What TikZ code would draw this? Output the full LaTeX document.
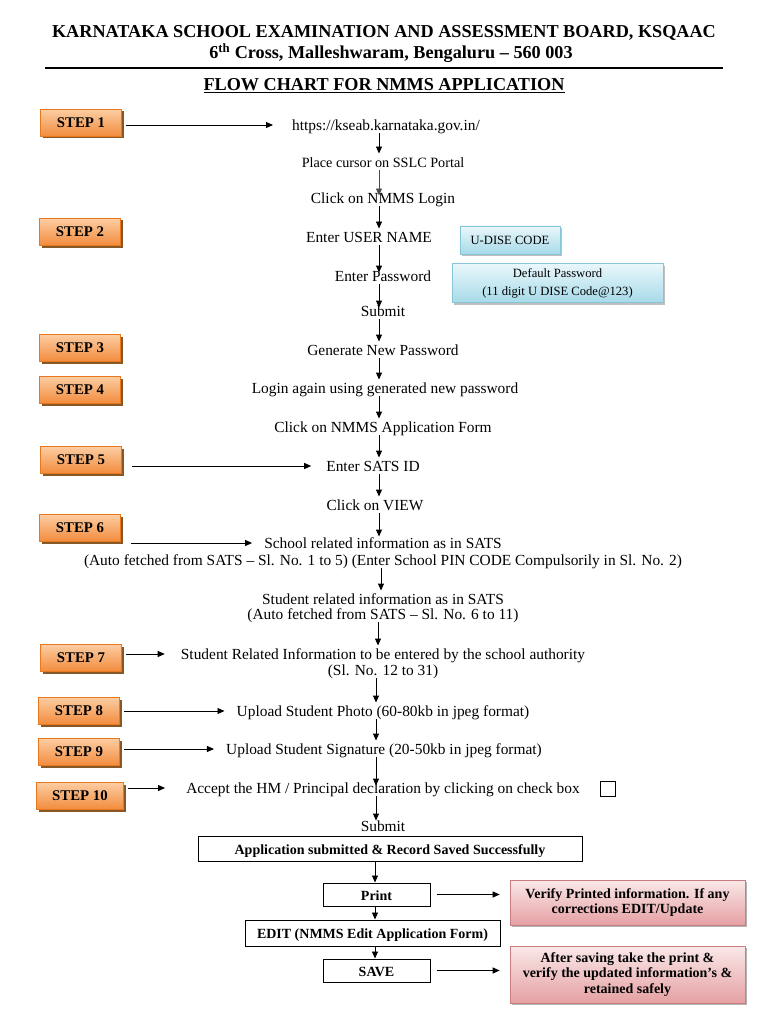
\documentclass[tikz,border=0pt]{standalone}
\usepackage{fontspec}
\setmainfont{Liberation Serif}
\usetikzlibrary{arrows.meta,shadows}
\definecolor{orTop}{HTML}{FCCDA2}
\definecolor{orBot}{HTML}{F28B3C}
\definecolor{orLine}{HTML}{E8781F}
\definecolor{blTop}{HTML}{EAF7FB}
\definecolor{blBot}{HTML}{A6DAE8}
\definecolor{blLine}{HTML}{86C6D8}
\definecolor{pkTop}{HTML}{FAE8E8}
\definecolor{pkBot}{HTML}{E5A0A3}
\definecolor{pkLine}{HTML}{C97E82}
\begin{document}
\begin{tikzpicture}[x=1pt,y=-1pt,
  txt/.style={inner sep=1pt, text height=13pt, text depth=1.5pt, font=\fontsize{15.4}{17}\selectfont},
  smalltxt/.style={txt, font=\fontsize{14.2}{17}\selectfont},
  stepbox/.style={draw=orLine, line width=0.8pt, top color=orTop, bottom color=orBot,
     minimum width=81pt, minimum height=27pt, inner sep=2pt,
     font=\bfseries\fontsize{14.8}{17}\selectfont,
     drop shadow={shadow xshift=2pt, shadow yshift=-2pt, fill=orange!45!black, opacity=0.85}},
  bluebox/.style={draw=blLine, line width=0.6pt, top color=blTop, bottom color=blBot,
     inner sep=2pt, align=center, font=\fontsize{12.6}{18}\selectfont,
     drop shadow={shadow xshift=2pt, shadow yshift=-2pt, fill=gray, opacity=0.5}},
  pinkbox/.style={draw=pkLine, line width=0.6pt, top color=pkTop, bottom color=pkBot,
     minimum width=235pt, inner sep=2pt, align=center, font=\bfseries\fontsize{14}{15.5}\selectfont,
     drop shadow={shadow xshift=2pt, shadow yshift=-2pt, fill=gray, opacity=0.6}},
  flowbox/.style={draw, line width=1pt, inner sep=2pt, text height=12.25pt, text depth=1.25pt, font=\bfseries\fontsize{14}{16}\selectfont},
  arr/.style={-{Triangle[length=7pt,width=6pt]}, line width=0.9pt},
  hdr/.style={font=\bfseries\fontsize{18.2}{20}\selectfont, inner sep=0pt}
]
\useasboundingbox (0,0) rectangle (768,1024);
% header
\node[hdr] (h1) at (384,33) {KARNATAKA SCHOOL EXAMINATION AND ASSESSMENT BOARD, KSQAAC};
\node[hdr] (h2) at (391,53) {6\textsuperscript{th} Cross, Malleshwaram, Bengaluru – 560 003};
\coordinate (rl) at (45,68);
\coordinate (rr) at (723,68);
\draw[line width=1.6pt] (rl) -- (rr);
\node[hdr] (title) at (384,86) {\underline{FLOW CHART FOR NMMS APPLICATION}};

% step boxes
\node[stepbox] (s1) at (81,123) {STEP 1};
\node[stepbox] (s2) at (80,232) {STEP 2};
\node[stepbox] (s3) at (80,348) {STEP 3};
\node[stepbox] (s4) at (80,390) {STEP 4};
\node[stepbox] (s5) at (81,460) {STEP 5};
\node[stepbox] (s6) at (80,528) {STEP 6};
\node[stepbox] (s7) at (81,658) {STEP 7};
\node[stepbox] (s8) at (79,711) {STEP 8};
\node[stepbox] (s9) at (79,752) {STEP 9};
\node[stepbox,minimum width=87pt] (s10) at (80,796) {STEP 10};

% main column texts
\node[txt] (n1) at (386,125) {https://kseab.karnataka.gov.in/};
\node[smalltxt] (n2) at (383,162) {Place cursor on SSLC Portal};
\node[txt] (n3) at (383,198) {Click on NMMS Login};
\node[txt] (n4) at (369,237) {Enter USER NAME};
\node[txt] (n5) at (383,276) {Enter Password};
\node[txt] (n6) at (383,311) {Submit};
\node[txt] (n7) at (383,350) {Generate New Password};
\node[txt] (n8) at (385,388) {Login again using generated new password};
\node[txt] (n9) at (383,427) {Click on NMMS Application Form};
\node[txt] (n10) at (373,466) {Enter SATS ID};
\node[txt] (n11) at (375,505) {Click on VIEW};
\node[txt] (n12a) at (383,543) {School related information as in SATS};
\node[txt] (n12b) at (383,560) {(Auto fetched from SATS – Sl. No. 1 to 5) (Enter School PIN CODE Compulsorily in Sl. No. 2)};
\node[txt] (n13a) at (383,599) {Student related information as in SATS};
\node[txt] (n13b) at (383,614) {(Auto fetched from SATS – Sl. No. 6 to 11)};
\node[txt] (n14a) at (383,654) {Student Related Information to be entered by the school authority};
\node[txt] (n14b) at (383,670) {(Sl. No. 12 to 31)};
\node[txt] (n15) at (383,711) {Upload Student Photo (60-80kb in jpeg format)};
\node[txt] (n16) at (384,749) {Upload Student Signature (20-50kb in jpeg format)};
\node[txt] (n17) at (383,788) {Accept the HM / Principal declaration by clicking on check box};
\node[draw, line width=0.8pt, minimum size=15pt, inner sep=0pt] (chk) at (608,789) {};
\node[txt] (n18) at (383,826) {Submit};

% boxes
\node[flowbox, minimum width=384pt, minimum height=25pt] (b1) at (390,848.5) {Application submitted \& Record Saved Successfully};
\node[flowbox, minimum width=107pt, minimum height=23pt] (b2) at (376.5,894.5) {Print};
\node[flowbox, minimum width=255pt, minimum height=26pt] (b3) at (372.5,933) {EDIT (NMMS Edit Application Form)};
\node[flowbox, minimum width=107pt, minimum height=23pt] (b4) at (376.5,970.5) {SAVE};

\node[pinkbox, minimum height=45pt] (p1) at (627.5,902.5) {Verify Printed information. If any\\corrections EDIT/Update};
\node[pinkbox, minimum height=57pt] (p2) at (627.5,974.5) {After saving take the print \&\\verify the updated information’s \&\\retained safely};

\node[bluebox, minimum width=100pt, minimum height=28pt] (u1) at (510,240) {U-DISE CODE};
\node[bluebox, minimum width=211pt, minimum height=39pt] (u2) at (557.5,283) {Default Password\\(11 digit U DISE Code@123)};

% column coordinates
\coordinate (cA) at (379,0);
\coordinate (cB) at (376,0);

% vertical arrows
\draw[arr] (n1.south -| cA) -- (n2.north -| cA);
\draw[arr, gray!60!black] (n2.south -| cA) -- ([yshift=-6pt]n3.north -| cA);
\draw[arr] (n3.south -| cA) -- (n4.north -| cA);
\draw[arr] (n4.south -| cA) -- ([yshift=-5pt]n5.north -| cA);
\draw[arr] (n5.south -| cA) -- ([yshift=-5pt]n6.north -| cA);
\draw[arr] (n6.south -| cA) -- (n7.north -| cA);
\draw[arr] (n7.south -| cA) -- (n8.north -| cA);
\draw[arr] (n8.south -| cA) -- (n9.north -| cA);
\draw[arr] (n9.south -| cA) -- (n10.north -| cA);
\draw[arr] (n10.south -| cA) -- (n11.north -| cA);
\draw[arr] (n11.south -| cA) -- ([yshift=-2pt]n12a.north -| cA);
\draw[arr] ([xshift=2pt]n12b.south -| cA) -- ([xshift=2pt]n13a.north -| cA);
\draw[arr] ([xshift=-1pt]n13b.south -| cA) -- ([xshift=-1pt]n14a.north -| cA);
\draw[arr] (n14b.south -| cB) -- (n15.north -| cB);
\draw[arr] (n15.south -| cB) -- (n16.north -| cB);
\draw[arr] (n16.south -| cB) -- ([yshift=-6pt]n17.north -| cB);
\draw[arr] (n17.south -| cB) -- ([yshift=-3pt]n18.north -| cB);
\draw[arr] ([xshift=-1pt]b1.south -| cB) -- ([xshift=-1pt]b2.north -| cB);
\draw[arr] ([xshift=-1pt]b2.south -| cB) -- ([xshift=-1pt]b3.north -| cB);
\draw[arr] ([xshift=-1pt]b3.south -| cB) -- ([xshift=-1pt]b4.north -| cB);

% step arrows
\draw[arr] ([xshift=4pt]s1.east |- n1.west) -- ([xshift=-18pt]n1.west);
\draw[arr] ([xshift=10pt]s5.east |- n10.west) -- ([xshift=-14pt]n10.west);
\draw[arr] ([xshift=10pt]s6.east |- n12a.west) -- ([xshift=-11pt]n12a.west);
\draw[arr] ([xshift=4pt]s7.east |- n14a.west) -- ([xshift=-15pt]n14a.west);
\draw[arr] ([xshift=4pt]s8.east |- n15.west) -- ([xshift=-11pt]n15.west);
\draw[arr] ([xshift=4pt]s9.east |- n16.west) -- ([xshift=-11pt]n16.west);
\draw[arr] ([xshift=4pt]s10.east |- n17.west) -- ([xshift=-20pt]n17.west);
\draw[arr] ([xshift=6pt]b2.east) -- ([xshift=-10pt]p1.west |- b2.east);
\draw[arr] ([xshift=6pt]b4.east) -- ([xshift=-10pt]p2.west |- b4.east);
\end{tikzpicture}
\end{document}
